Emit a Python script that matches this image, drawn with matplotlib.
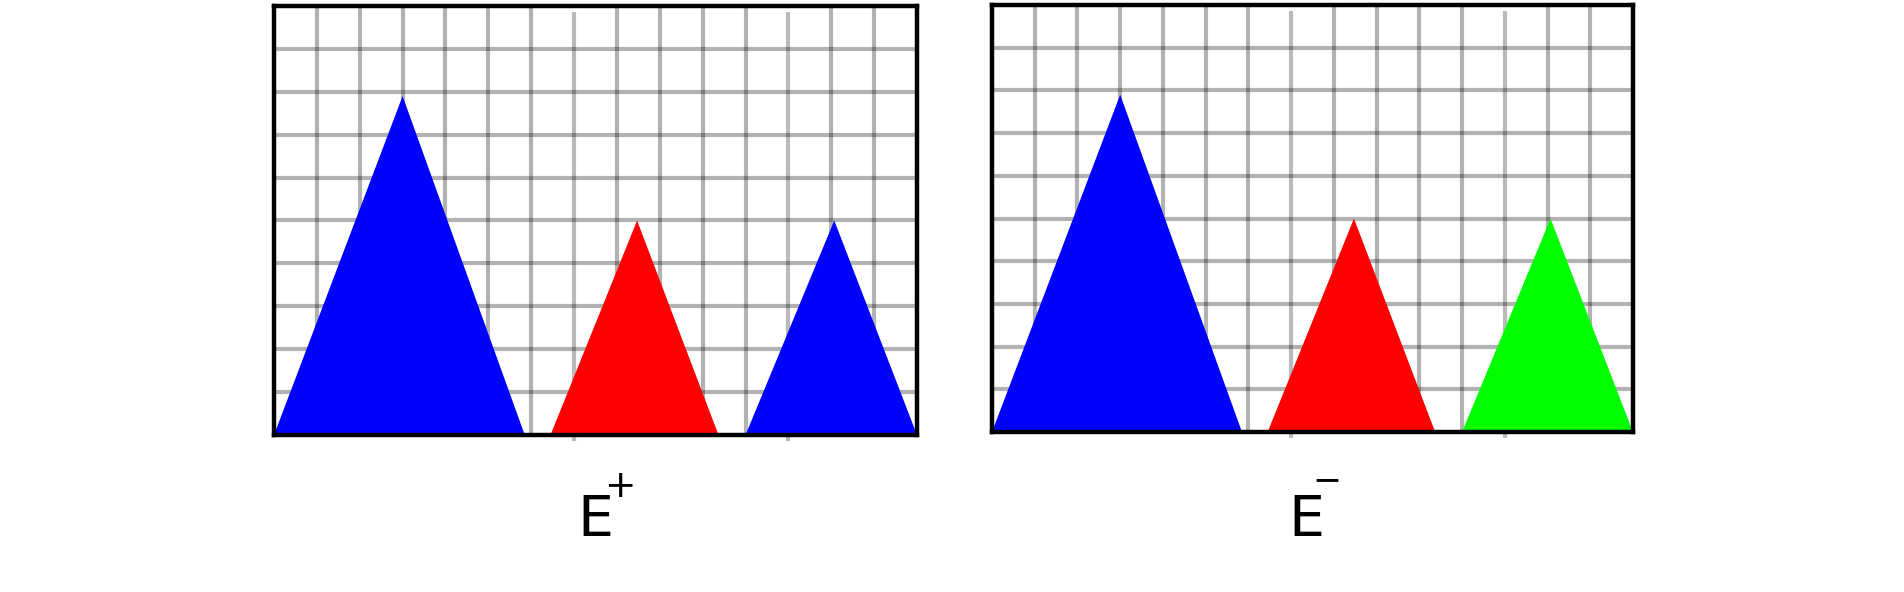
"""Two grid panels with triangles, labelled E+ and E-."""

import matplotlib

matplotlib.use("Agg")
import matplotlib.pyplot as plt
from matplotlib.patches import Polygon

# grid size in cells
N_COLS = 15
N_ROWS = 10

# triangles: base left, apex x, base right, apex height (grid units)
tri_left = [0.0, 6.45, 11.0]
tri_apex = [3.0, 8.47, 13.07]
tri_right = [5.85, 10.37, 15.0]
tri_height = [7.9, 5.0, 5.0]

colors_plus = ["#0000ff", "#ff0000", "#0000ff"]
colors_minus = ["#0000ff", "#ff0000", "#00ff00"]

# grid columns that poke out below the frame like ticks
tick_cols = [7, 12]

W, H = 1904, 592


def draw_panel(ax, colors):
    ax.set_xlim(0, N_COLS)
    ax.set_ylim(0, N_ROWS)
    ax.set_xticks([])
    ax.set_yticks([])
    for x in range(1, N_COLS):
        if x in tick_cols:
            ax.plot([x, x], [-0.13, N_ROWS - 0.13], color="black", alpha=0.27,
                    lw=3.0, zorder=0.5, clip_on=False, solid_capstyle="butt")
        else:
            ax.axvline(x, color="black", alpha=0.3, lw=3.0, zorder=0.5)
    for y in range(1, N_ROWS):
        ax.axhline(y, color="black", alpha=0.3, lw=3.0, zorder=0.5)
    for l, a, r, h, c in zip(tri_left, tri_apex, tri_right, tri_height, colors):
        ax.add_patch(Polygon([(l, 0), (a, h), (r, 0)], closed=True,
                             facecolor=c, edgecolor="none", zorder=1))
    for sp in ax.spines.values():
        sp.set_linewidth(3.2)
        sp.set_color("black")
        sp.set_zorder(3)


fig = plt.figure(figsize=(W / 100, H / 100), dpi=100)
ax1 = fig.add_axes([274 / W, 1 - 435 / H, 643 / W, 429 / H])
ax2 = fig.add_axes([992 / W, 1 - 432 / H, 641 / W, 427 / H])
draw_panel(ax1, colors_plus)
draw_panel(ax2, colors_minus)

# labels
fig.text(577 / W, 1 - 537 / H, "E", fontsize=41, family="DejaVu Sans",
         ha="left", va="baseline")
fig.text(621 / W, 1 - 497 / H, "+", fontsize=27, family="DejaVu Sans",
         ha="center", va="baseline")
fig.text(1288 / W, 1 - 537 / H, "E", fontsize=41, family="DejaVu Sans",
         ha="left", va="baseline")
fig.text(1327 / W, 1 - 490 / H, "\u2212", fontsize=25, family="DejaVu Sans",
         ha="center", va="baseline")

fig.savefig("out.png", dpi=100)
plt.close(fig)
